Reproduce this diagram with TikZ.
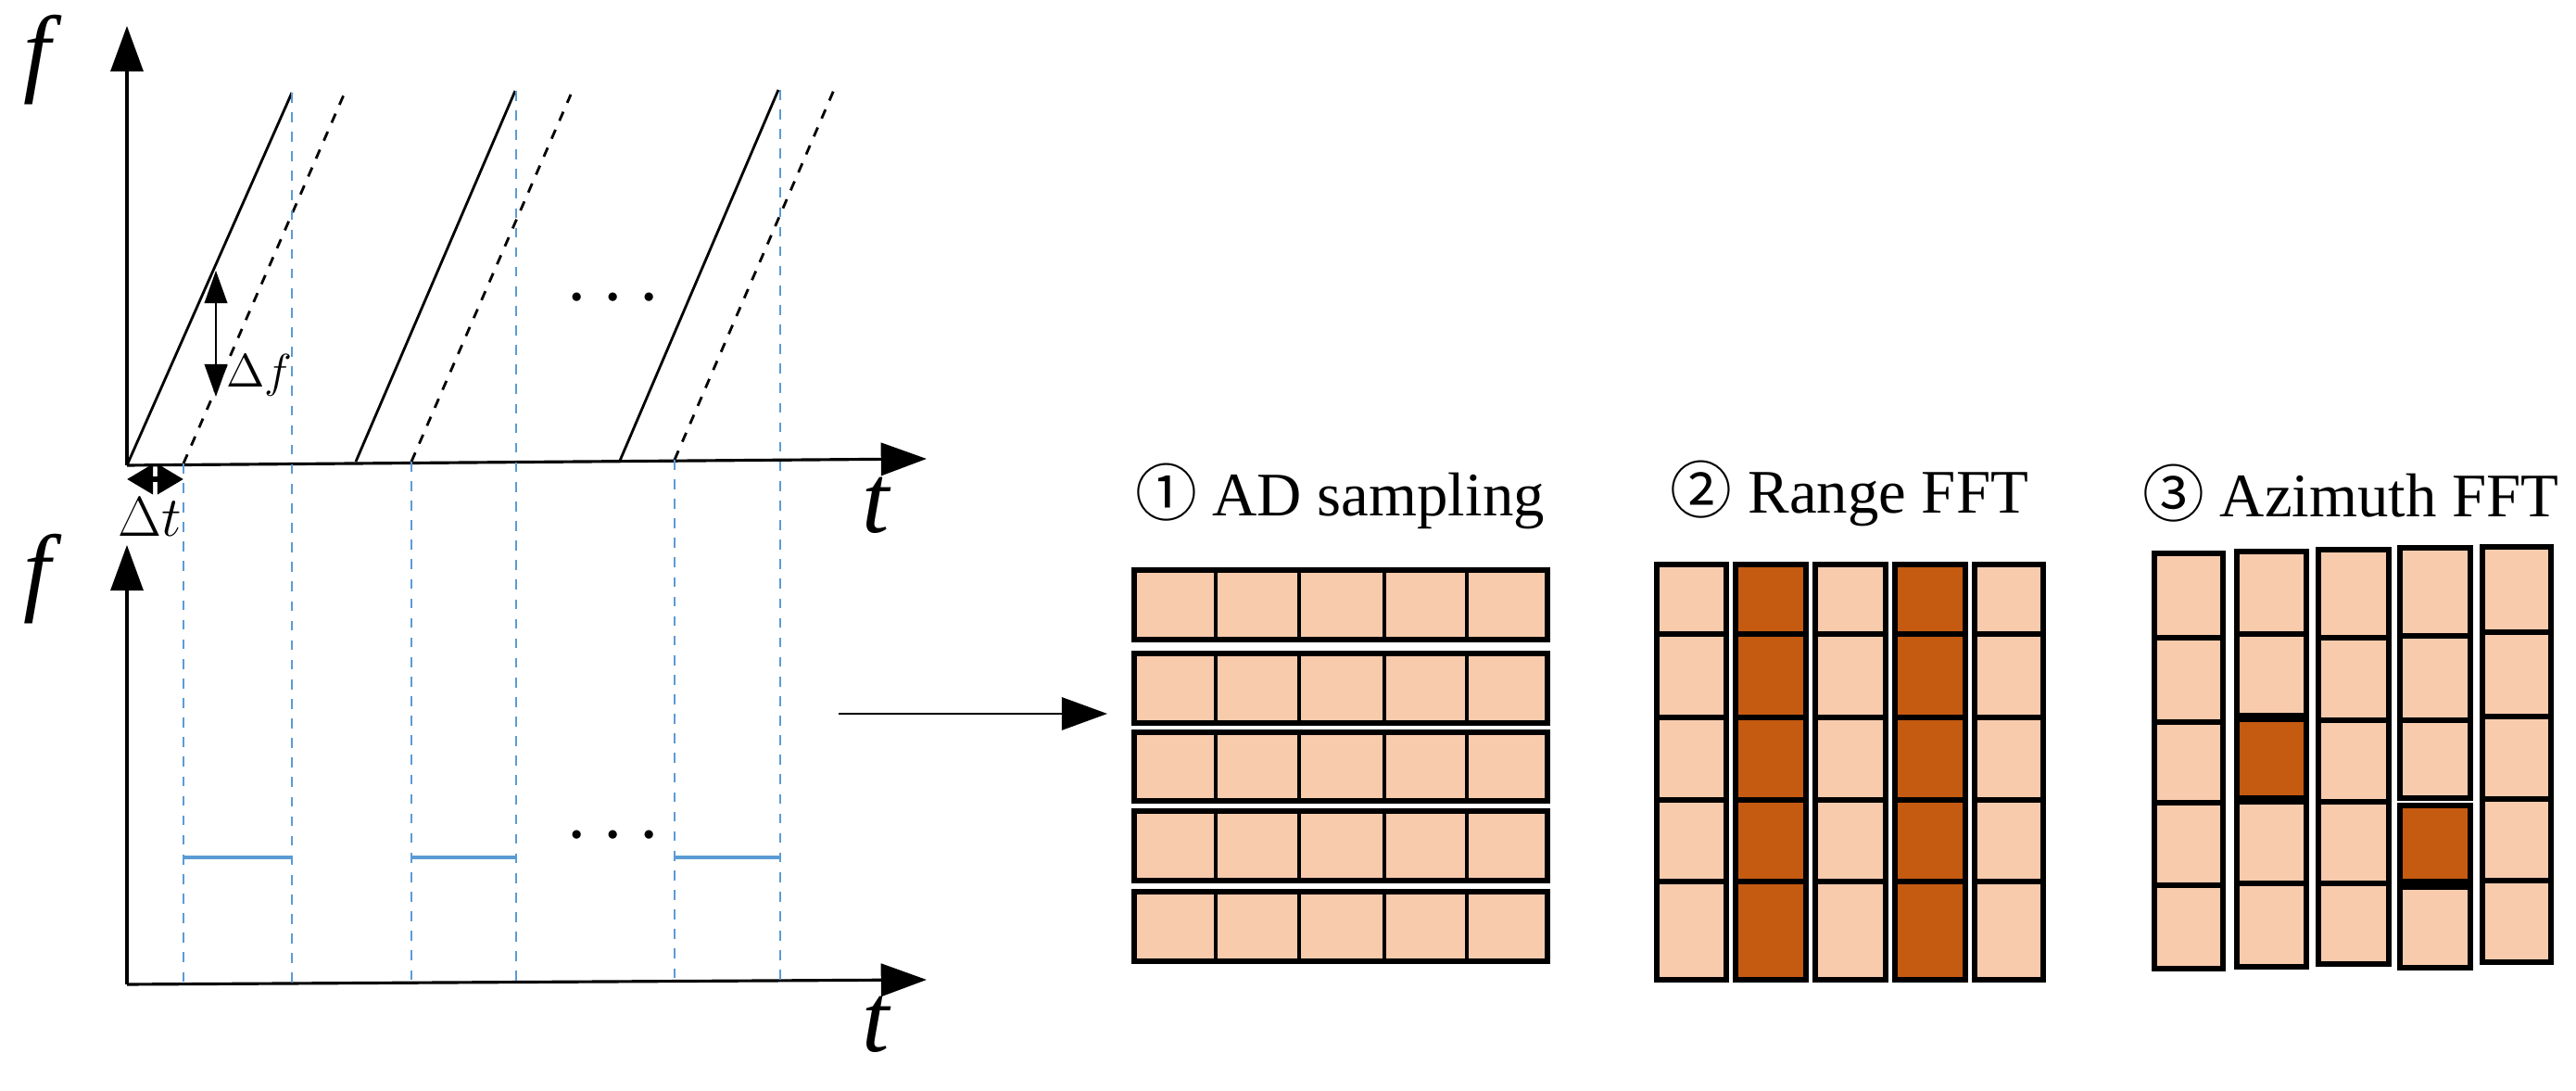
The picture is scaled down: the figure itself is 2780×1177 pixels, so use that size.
\documentclass[tikz,border=0pt]{standalone}
\usepackage{fontspec}
\setmainfont{Liberation Serif}
\newfontfamily\circfont{Noto Sans CJK SC}
\usepackage{tikz}
\usetikzlibrary{arrows.meta}
\definecolor{cellL}{HTML}{F8CBAD}
\definecolor{cellD}{HTML}{C55A11}
\definecolor{guide}{HTML}{5B9BD5}
\tikzstyle{none}=[inner sep=0pt]
\tikzstyle{title}=[inner sep=0pt,font=\fontsize{19}{19}\selectfont]
\tikzstyle{axis}=[-{Triangle[length=14pt,width=10pt]},draw=black,line width=0.9]
\tikzstyle{chirp}=[-,draw=black,line width=0.8]
\tikzstyle{echo}=[-,draw=black,dashed,line width=0.8]
\tikzstyle{vline}=[-,draw=guide,dashed,line width=0.8]
\tikzstyle{hline}=[-,draw=guide,line width=1.0]
\tikzstyle{cell}=[draw=black,line width=1.0]
\tikzstyle{rowbox}=[draw=black,line width=1.6]

\begin{document}
\begin{tikzpicture}[x=0.01cm,y=-0.01cm]
  \useasboundingbox (0,0) rectangle (2780,1177);
  % upper plot
  \coordinate (0) at (137, 502);
  \coordinate (1) at (137, 28);
  \coordinate (2) at (1000, 495);
  \draw [style=axis] (0) to (1);
  \draw [style=axis] (0) to (2);
  \node [style=none] (3) at (40, 65) {\fontsize{30}{30}\selectfont\itshape f};
  \node [style=none] (4) at (945, 545) {\fontsize{30}{30}\selectfont\itshape t};
  \node [style=none] (5) at (662, 323) {\fontsize{24}{24}\selectfont\bfseries $\cdots$};
  % chirps
  \coordinate (10) at (137, 502);  \coordinate (11) at (315, 100);
  \coordinate (12) at (198, 500);  \coordinate (13) at (372, 100);
  \coordinate (14) at (384, 498);  \coordinate (15) at (556, 98);
  \coordinate (16) at (444, 498);  \coordinate (17) at (616, 102);
  \coordinate (18) at (669, 497);  \coordinate (19) at (840, 97);
  \coordinate (20) at (728, 496);  \coordinate (21) at (900, 97);
  \draw [style=chirp] (10) to (11);
  \draw [style=echo] (12) to (13);
  \draw [style=chirp] (14) to (15);
  \draw [style=echo] (16) to (17);
  \draw [style=chirp] (18) to (19);
  \draw [style=echo] (20) to (21);
  % delta f and delta t
  \coordinate (22) at (233, 292);
  \coordinate (23) at (233, 428);
  \draw [style=axis,line width=0.6,{Triangle[length=10pt,width=7pt]}-{Triangle[length=10pt,width=7pt]}] (22) to (23);
  \node [style=none] (24) at (280, 405) {\fontsize{14}{14}\selectfont$\Delta f$};
  \coordinate (25) at (137, 517);
  \coordinate (26) at (198, 517);
  \draw [style=axis,line width=1.6,{Triangle[length=8pt,width=9pt]}-{Triangle[length=8pt,width=9pt]}] (25) to (26);
  \node [style=none] (27) at (162, 558) {\fontsize{19}{19}\selectfont$\Delta t$};
  % lower plot
  \coordinate (30) at (137, 1062);
  \coordinate (31) at (137, 588);
  \coordinate (32) at (1000, 1057);
  \draw [style=axis] (30) to (31);
  \draw [style=axis] (30) to (32);
  \node [style=none] (33) at (40, 625) {\fontsize{30}{30}\selectfont\itshape f};
  \node [style=none] (34) at (945, 1105) {\fontsize{30}{30}\selectfont\itshape t};
  \node [style=none] (35) at (662, 903) {\fontsize{24}{24}\selectfont\bfseries $\cdots$};
  % guides
  \coordinate (40) at (315, 100);  \coordinate (41) at (315, 1060);
  \coordinate (42) at (557, 98);   \coordinate (43) at (557, 1059);
  \coordinate (44) at (842, 97);   \coordinate (45) at (842, 1058);
  \coordinate (46) at (198, 500);  \coordinate (47) at (198, 1061);
  \coordinate (48) at (444, 498);  \coordinate (49) at (444, 1060);
  \coordinate (50) at (728, 496);  \coordinate (51) at (728, 1059);
  \draw [style=vline] (40) to (41);
  \draw [style=vline] (42) to (43);
  \draw [style=vline] (44) to (45);
  \draw [style=vline] (46) to (47);
  \draw [style=vline] (48) to (49);
  \draw [style=vline] (50) to (51);
  \coordinate (52) at (198, 925);  \coordinate (53) at (315, 925);
  \coordinate (54) at (444, 925);  \coordinate (55) at (557, 925);
  \coordinate (56) at (728, 925);  \coordinate (57) at (842, 925);
  \draw [style=hline] (52) to (53);
  \draw [style=hline] (54) to (55);
  \draw [style=hline] (56) to (57);
  % main arrow
  \coordinate (60) at (905, 770);
  \coordinate (61) at (1195, 770);
  \draw [-{Triangle[length=14pt,width=10pt]},draw=black,line width=0.8] (60) to (61);
  % titles
  \node [style=title] (70) at (1446, 535) {{\circfont ①} AD sampling};
  \node [style=title] (71) at (1996, 532) {{\circfont ②} Range FFT};
  \node [style=title] (72) at (2537, 532) {{\circfont ③} Azimuth FFT};
  % grid 1
  \foreach \ya/\yb in {615/690, 705/780, 790/864, 875/950, 962/1037} {
    \foreach \xa/\xb in {1224/1312, 1312/1402, 1402/1494, 1494/1583, 1583/1670}
      \draw [style=cell,fill=cellL] (\xa,\ya) rectangle (\xb,\yb);
    \draw [style=rowbox] (1224,\ya) rectangle (1670,\yb);
  }
  % grid 2
  \foreach \xa/\xb/\c in {1788/1863/cellL, 1873/1949/cellD, 1959/2035/cellL, 2045/2121/cellD, 2131/2205/cellL} {
    \foreach \ya/\yb in {609/684, 684/774, 774/863, 863/951, 951/1057}
      \draw [style=rowbox,fill=\c] (\xa,\ya) rectangle (\xb,\yb);
  }
  % grid 3
  \foreach \ya/\yb in {597/688, 688/779, 779/866, 866/955, 955/1045}
    \draw [style=rowbox,fill=cellL] (2325,\ya) rectangle (2399,\yb);
  \foreach \ya/\yb/\c in {595/684/cellL, 684/772/cellL, 776/861/cellD, 865/953/cellL, 953/1043/cellL}
    \draw [style=rowbox,fill=\c] (2414,\ya) rectangle (2489,\yb);
  \foreach \ya/\yb in {593/688, 688/777, 777/865, 865/953, 953/1040}
    \draw [style=rowbox,fill=cellL] (2502,\ya) rectangle (2578,\yb);
  \foreach \ya/\yb/\c in {591/686/cellL, 686/777/cellL, 777/861/cellL, 869/951/cellD, 957/1044/cellL}
    \draw [style=rowbox,fill=\c] (2590,\ya) rectangle (2666,\yb);
  \foreach \ya/\yb in {590/682, 682/773, 773/862, 862/950, 950/1038}
    \draw [style=rowbox,fill=cellL] (2679,\ya) rectangle (2753,\yb);
\end{tikzpicture}
\end{document}
